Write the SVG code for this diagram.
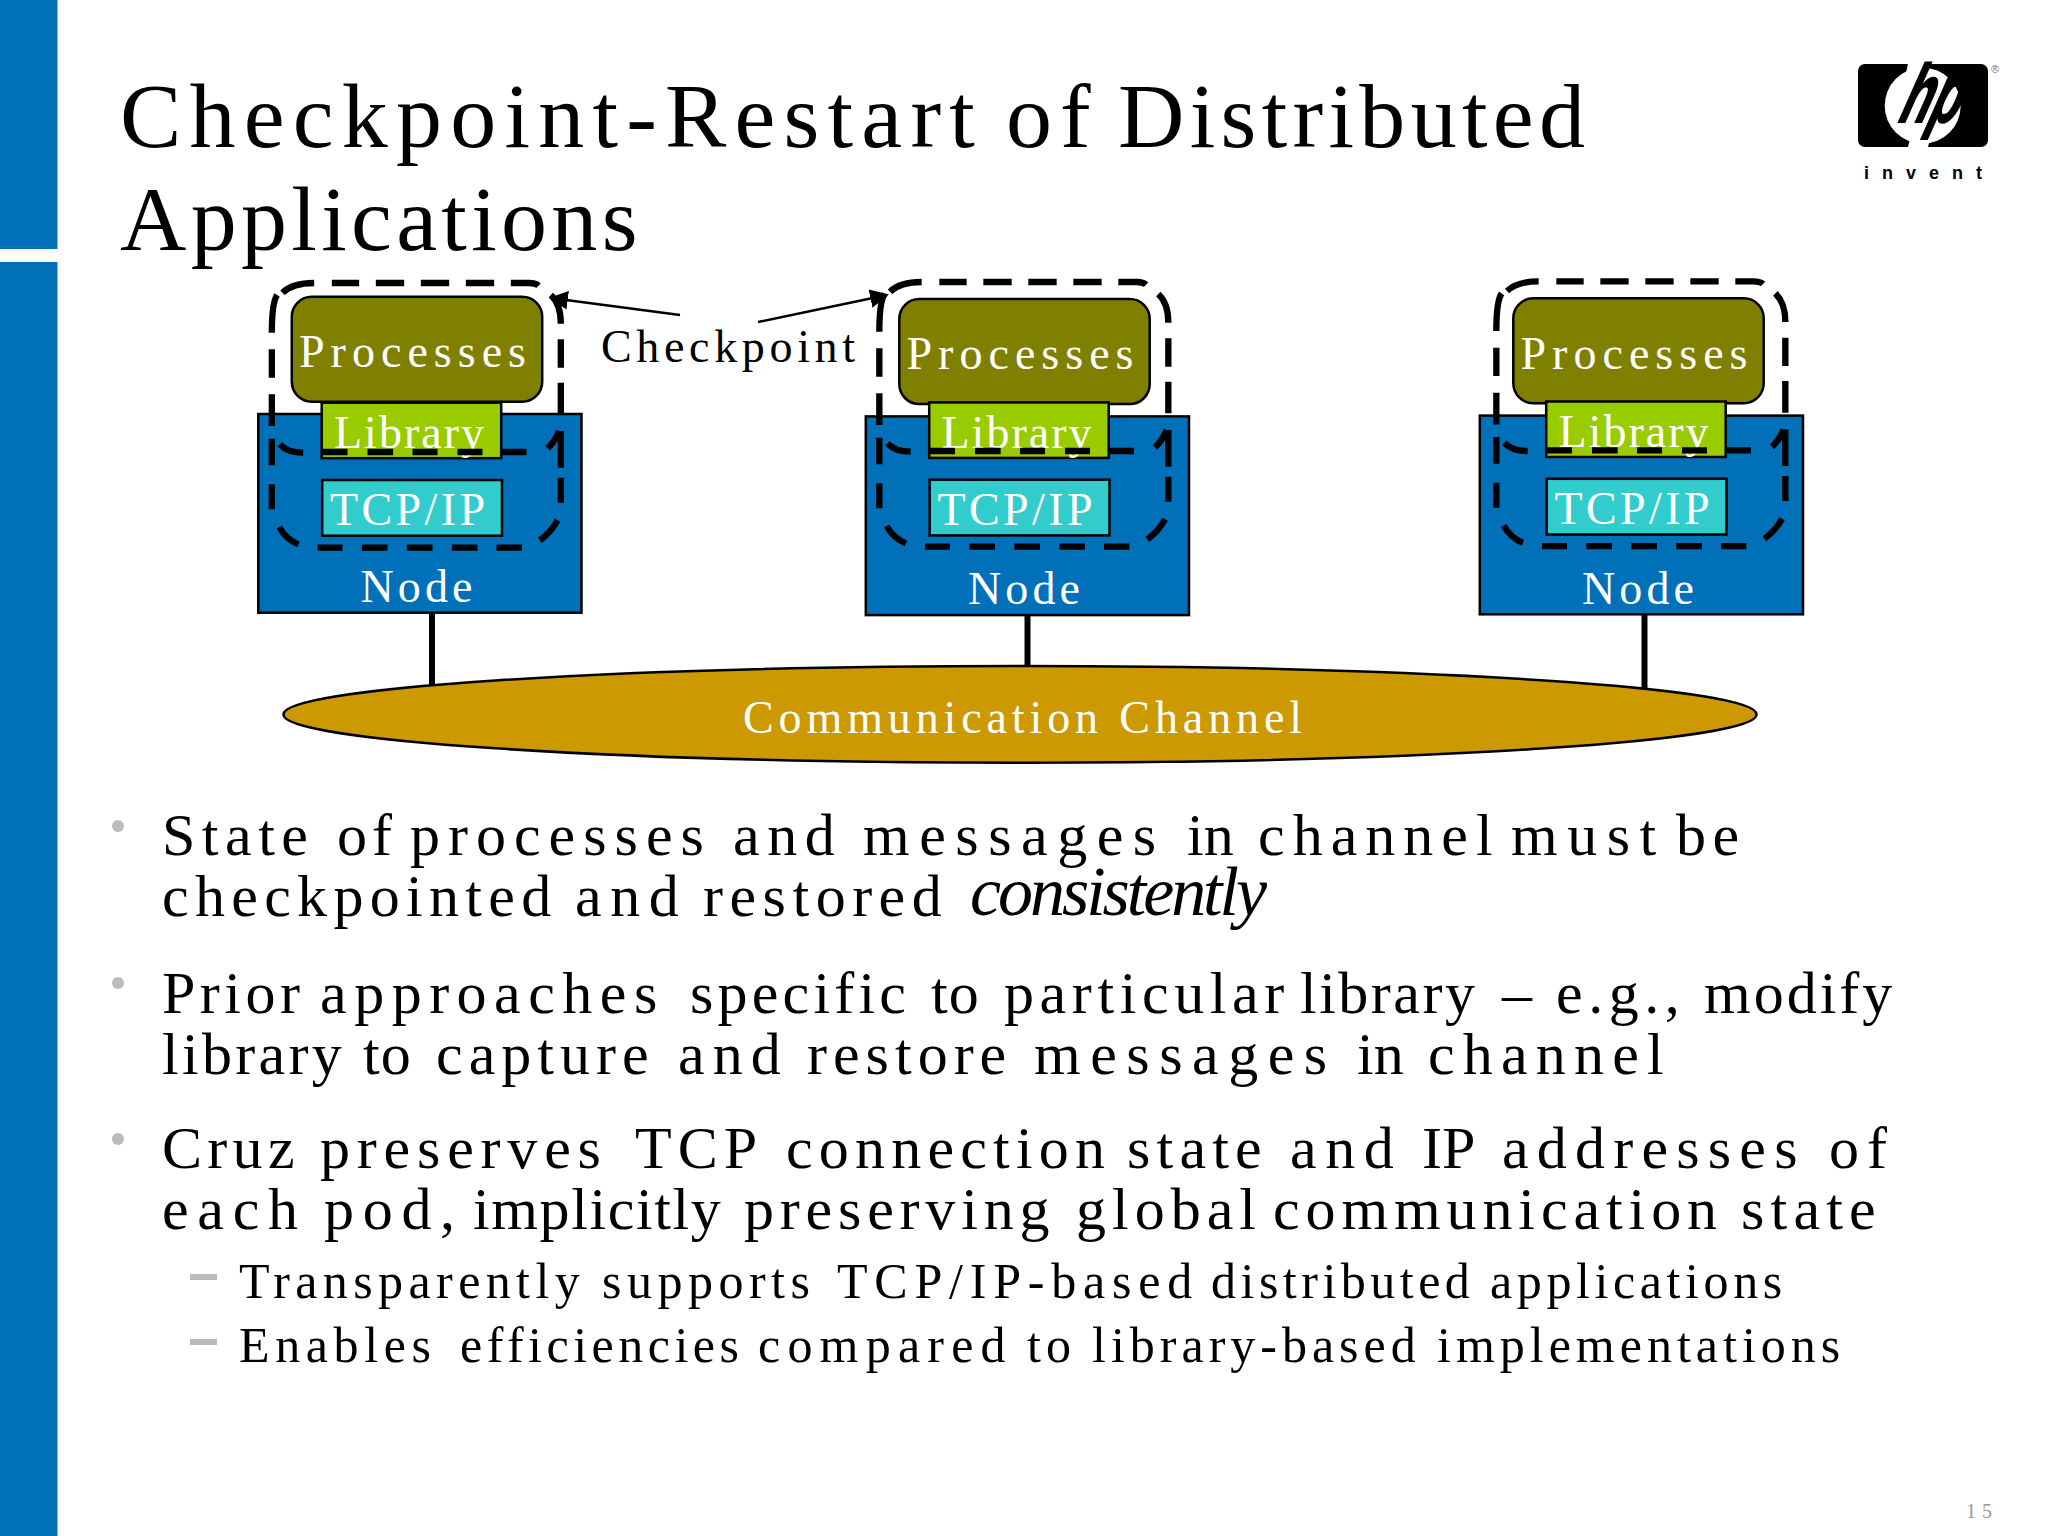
<svg xmlns="http://www.w3.org/2000/svg" width="2048" height="1536" viewBox="0 0 2048 1536">
<style>
text{font-family:"Liberation Serif","Times New Roman",serif;}
.t{font-size:92px;fill:#000;}
.b{font-size:60px;fill:#000;}
.s{font-size:50px;fill:#000;}
.l{font-size:46px;fill:#fff;}
.logo{font-family:"Liberation Sans",Arial,sans-serif;font-weight:700;}
.box{stroke:#000;stroke-width:2.5;}
.dash{fill:none;stroke:#000;stroke-width:19;}
.wire{stroke:#000;stroke-width:6;fill:none;}
.arr{stroke:#000;stroke-width:2.5;fill:none;marker-end:url(#ah);}
.gray{fill:#bbb;}
</style>
<defs>
<marker id="ah" viewBox="0 0 10 10" refX="9" refY="5" markerWidth="7.5" markerHeight="7.5" orient="auto" markerUnits="strokeWidth"><path d="M0,0L10,5L0,10Z" fill="#000"/></marker>
<g id="shell">
<rect class="box" x="258.3" y="414" width="323.2" height="198.7" fill="#0070B8"/>
<rect class="box" x="291.8" y="296.7" width="250.4" height="105" rx="20" fill="#808000"/>
<text class="l" x="299" y="367" textLength="227">Processes</text>
<text class="l" x="360.5" y="602" textLength="112">Node</text>
</g>
<g id="mid">
<rect class="box" x="321.7" y="402.7" width="179.5" height="55.5" fill="#99CC00"/>
<rect class="box" x="322.2" y="480" width="179.8" height="55.7" fill="#33CCCC"/>
<text class="l" x="334" y="448" textLength="150">Library</text>
<text class="l" x="330" y="525.3" textLength="155">TCP/IP</text>
</g>
<g id="dash" transform="translate(242.5,271) scale(.33333)">
<path class="dash" d="M268,36H350M400,36H485M535,36H620M670,36H755M805,36H860Q880,36 888,44"/>
<path class="dash" d="M120,65Q150,36 215,36M104,72Q88,95 88,185M88,235V320M88,370V465M88,503V583M88,640V715"/>
<path class="dash" d="M925,72Q955,100 955,158M955,205V290M955,335V430M955,480V590M955,620V695"/>
<path class="dash" d="M112,520Q135,545 182,545M240,543H315M375,543H452M510,543H585M645,543H720M778,543H852M915,532Q935,515 950,480"/>
<path class="dash" d="M110,768Q130,805 168,820M225,830H300M358,830H435M493,830H570M628,830H705M762,830H838M892,808Q925,785 945,748"/>
</g>
</defs>
<g id="sidebar">
<rect x="0" y="0" width="57.5" height="249" fill="#0070B8"/>
<rect x="0" y="262" width="57.5" height="1274" fill="#0070B8"/>
</g>
<g id="logo">
<rect x="1858" y="64" width="130" height="83" rx="7" fill="#000"/>
<circle cx="1922.7" cy="105.7" r="38" fill="#fff"/>
<polygon points="1908,64 1927,64 1922,77 1905,77" fill="#fff"/>
<polygon points="1908,147 1928,147 1931,135 1911,135" fill="#fff"/>
<text class="logo" transform="translate(1895,122) skewX(-24)" font-size="82" textLength="60" lengthAdjust="spacingAndGlyphs" stroke="#000" stroke-width="2">hp</text>
<text class="logo" x="1864" y="179" font-size="18" textLength="118">invent</text>
<text class="logo" x="1991" y="73" font-size="11" fill="#777" style="font-weight:400">®</text>
</g>
<g id="title">
<text class="t" x="120" y="147"><tspan style="letter-spacing:8.2px">Checkpoint-Restart</tspan> <tspan x="1006" style="letter-spacing:8px">of</tspan> <tspan x="1118" style="letter-spacing:5.3px">Distributed</tspan></text>
<text class="t" x="120" y="250" style="letter-spacing:4.3px">Applications</text>
</g>
<g id="connectors">
<line class="wire" x1="432" y1="612" x2="432" y2="685"/>
<line class="wire" x1="1027.5" y1="615" x2="1027.5" y2="667"/>
<line class="wire" x1="1644.5" y1="614" x2="1644.5" y2="690"/>
</g>
<g id="node-1"><use href="#shell"/><use href="#mid"/><use href="#dash"/></g>
<g id="node-2"><use href="#shell" transform="translate(607.5,2.4)"/><use href="#mid" transform="translate(607.5,-.3)"/><use href="#dash" transform="translate(607.5,-1)"/></g>
<g id="node-3"><use href="#shell" transform="translate(1221.5,1.6)"/><use href="#mid" transform="translate(1224.5,-1.2)"/><use href="#dash" transform="translate(1224.5,-1.6)"/></g>
<g id="channel">
<ellipse cx="1020" cy="714.4" rx="736.6" ry="48.3" fill="#CC9900" stroke="#000" stroke-width="2.5"/>
<text class="l" x="743" y="733" textLength="559">Communication Channel</text>
</g>
<g id="checkpoint">
<text x="601" y="362" textLength="254" style="font-size:46px">Checkpoint</text>
<line class="arr" x1="680" y1="315" x2="551" y2="298"/>
<line class="arr" x1="758" y1="322" x2="887" y2="295"/>
</g>
<g id="body">
<circle class="gray" cx="118" cy="826" r="6"/>
<circle class="gray" cx="118" cy="983" r="6"/>
<circle class="gray" cx="118" cy="1139" r="6"/>
<text class="b" x="162" y="855"><tspan style="letter-spacing:6.5px">State</tspan> <tspan x="337" style="letter-spacing:5px">of</tspan> <tspan x="410" style="letter-spacing:8px">processes</tspan> <tspan x="733" style="letter-spacing:7.5px">and</tspan> <tspan x="863" style="letter-spacing:9.5px">messages</tspan> <tspan x="1187">in</tspan> <tspan x="1258" style="letter-spacing:8px">channel</tspan> <tspan x="1511" style="letter-spacing:9.5px">must</tspan> <tspan x="1676" style="letter-spacing:6.5px">be</tspan></text>
<text class="b" x="162" y="916"><tspan style="letter-spacing:6.3px">checkpointed</tspan> <tspan x="575" style="letter-spacing:8.5px">and</tspan> <tspan x="703" style="letter-spacing:6.5px">restored</tspan></text>
<text x="970" y="915" font-style="italic" style="font-size:70px" textLength="297">consistently</text>
<text class="b" x="162" y="1013"><tspan style="letter-spacing:4.5px">Prior</tspan> <tspan x="320" style="letter-spacing:7.5px">approaches</tspan> <tspan x="690" style="letter-spacing:4.2px">specific</tspan> <tspan x="931" style="letter-spacing:1px">to</tspan> <tspan x="1004" style="letter-spacing:5.6px">particular</tspan> <tspan x="1300" style="letter-spacing:2.5px">library</tspan> <tspan x="1502">–</tspan> <tspan x="1556" style="letter-spacing:5.5px">e.g.,</tspan> <tspan x="1704" style="letter-spacing:3px">modify</tspan></text>
<text class="b" x="162" y="1074"><tspan style="letter-spacing:3.3px">library</tspan> <tspan x="363" style="letter-spacing:1px">to</tspan> <tspan x="436" style="letter-spacing:6px">capture</tspan> <tspan x="678" style="letter-spacing:8px">and</tspan> <tspan x="807" style="letter-spacing:6px">restore</tspan> <tspan x="1034" style="letter-spacing:9.5px">messages</tspan> <tspan x="1357">in</tspan> <tspan x="1428" style="letter-spacing:8.2px">channel</tspan></text>
<text class="b" x="162" y="1168"><tspan style="letter-spacing:5.3px">Cruz</tspan> <tspan x="320" style="letter-spacing:6.8px">preserves</tspan> <tspan x="635" style="letter-spacing:6px">TCP</tspan> <tspan x="786" style="letter-spacing:6.2px">connection</tspan> <tspan x="1127" style="letter-spacing:6.2px">state</tspan> <tspan x="1290" style="letter-spacing:8.5px">and</tspan> <tspan x="1422">IP</tspan> <tspan x="1502" style="letter-spacing:8.2px">addresses</tspan> <tspan x="1829" style="letter-spacing:8px">of</tspan></text>
<text class="b" x="162" y="1229"><tspan style="letter-spacing:8.7px">each</tspan> <tspan x="324" style="letter-spacing:8.7px">pod,</tspan> <tspan x="473" style="letter-spacing:1.6px">implicitly</tspan> <tspan x="744" style="letter-spacing:5.8px">preserving</tspan> <tspan x="1076" style="letter-spacing:6px">global</tspan> <tspan x="1273" style="letter-spacing:5.9px">communication</tspan> <tspan x="1741" style="letter-spacing:6.2px">state</tspan></text>
<rect class="gray" x="190" y="1274" width="27" height="6"/>
<rect class="gray" x="190" y="1339" width="27" height="6"/>
<text class="s" x="239" y="1298"><tspan style="letter-spacing:5.4px">Transparently</tspan> <tspan x="602" style="letter-spacing:5.5px">supports</tspan> <tspan x="837" style="letter-spacing:6.8px">TCP/IP-based</tspan> <tspan x="1211" style="letter-spacing:4.5px">distributed</tspan> <tspan x="1490" style="letter-spacing:4.6px">applications</tspan></text>
<text class="s" x="239" y="1362"><tspan style="letter-spacing:5.6px">Enables</tspan> <tspan x="460" style="letter-spacing:4.5px">efficiencies</tspan> <tspan x="758" style="letter-spacing:7.2px">compared</tspan> <tspan x="1027" style="letter-spacing:5px">to</tspan> <tspan x="1092" style="letter-spacing:5px">library-based</tspan> <tspan x="1437" style="letter-spacing:5px">implementations</tspan></text>
</g>
<g id="page"><text x="1966" y="1518" style="font-size:20px" fill="#999" textLength="26">15</text></g>
</svg>
